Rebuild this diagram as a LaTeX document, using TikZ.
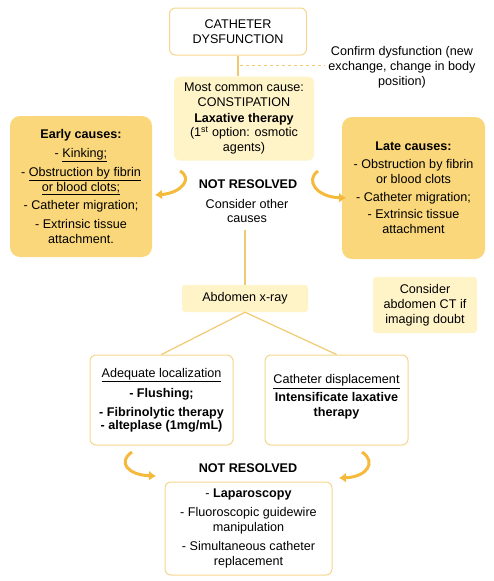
\documentclass[tikz,border=0pt]{standalone}
\usepackage{fontspec}
\setmainfont{Liberation Sans}
\usetikzlibrary{arrows.meta,shapes,positioning}
\definecolor{goldfill}{RGB}{250,215,122}
\definecolor{paleyellow}{RGB}{255,243,200}
\definecolor{edgecol}{RGB}{245,214,140}
\definecolor{linkcol}{RGB}{240,202,112}
\definecolor{arrowcol}{RGB}{245,185,60}
\tikzset{
	txt/.style = {align = center, inner sep = 0,
		font = \fontsize{12.6}{14.8}\selectfont},
	whitebox/.style = {rectangle, rounded corners = 6pt, fill = white,
		draw = edgecol, line width = 1pt},
	palebox/.style = {rectangle, rounded corners = 6pt, fill = paleyellow},
	goldbox/.style = {rectangle, rounded corners = 10pt, fill = goldfill},
	link/.style = {draw = linkcol, line width = 1.2pt},
	dashlink/.style = {draw = linkcol, line width = 0.8pt, dashed,
		dash pattern = on 3pt off 3pt},
	bend arrow/.style = {draw = arrowcol, line width = 3pt,
		-{Latex[length = 7pt, width = 10pt]}},
}

\begin{document}
\begin{tikzpicture}[x = 1pt, y = -1pt]
\useasboundingbox (0,0) rectangle (494,581);

% boxes
\node[whitebox, minimum width = 137pt, minimum height = 47pt] (dysf) at (238,31.5) {};
\node[palebox, minimum width = 140pt, minimum height = 84pt] (cause) at (244,118.5) {};
\node[goldbox, minimum width = 142pt, minimum height = 141pt] (early) at (81,186.5) {};
\node[goldbox, minimum width = 143pt, minimum height = 142pt] (late) at (413.5,188) {};
\node[palebox, rounded corners = 3pt, minimum width = 126pt, minimum height = 27pt] (xray) at (245,298.5) {};
\node[palebox, rounded corners = 3pt, minimum width = 104pt, minimum height = 56pt] (ct) at (425,305) {};
\node[whitebox, minimum width = 143pt, minimum height = 90pt] (adequate) at (161.5,400) {};
\node[whitebox, minimum width = 143pt, minimum height = 90pt] (displace) at (336.5,400) {};
\node[whitebox, minimum width = 167pt, minimum height = 93pt] (lapar) at (248.5,528.5) {};

% texts
\node[txt] at (dysf) {CATHETER\\DYSFUNCTION};
\node[txt] (confirm) at (402,67) {Confirm dysfunction (new\\exchange, change in body\\position)};
\node[txt] at (cause) {Most common cause:\\CONSTIPATION\\[1pt]
	\textbf{Laxative therapy}\\(1\textsuperscript{st} option: osmotic\\agents)};
\node[txt] at (early) {\textbf{Early causes:}\\[4pt]
	- \underline{Kinking;}\\[4pt]
	- \underline{Obstruction by fibrin}\\\underline{or blood clots;}\\[4pt]
	- Catheter migration;\\[4pt]
	- Extrinsic tissue\\attachment.};
\node[txt] at (late) {\textbf{Late causes:}\\[3pt]
	- Obstruction by fibrin\\or blood clots\\[3pt]
	- Catheter migration;\\[3pt]
	- Extrinsic tissue\\attachment};
\node[txt, font = \fontsize{12.6}{14.8}\bfseries] (notres) at (248,184) {NOT RESOLVED};
\node[txt] (other) at (247,211) {Consider other\\causes};
\node[txt] at (xray) {Abdomen x-ray};
\node[txt] at (ct) {Consider\\abdomen CT if\\imaging doubt};
\node[txt] at (adequate) {\underline{Adequate localization}\\[6pt]
	\textbf{- Flushing;}\\[4pt]
	\textbf{- Fibrinolytic therapy}\\[-2pt]\textbf{- alteplase (1mg/mL)}};
\node[txt] at ([yshift = 3pt]displace.center) {\underline{Catheter displacement}\\[3pt]
	\textbf{Intensificate laxative}\\\textbf{therapy}};
\node[txt, font = \fontsize{12.6}{14.8}\bfseries] (notres2) at (248,468) {NOT RESOLVED};
\node[txt] at (lapar) {- \textbf{Laparoscopy}\\[4pt]
	- Fluoroscopic guidewire\\manipulation\\[4pt]
	- Simultaneous catheter\\replacement};

% connectors
\draw[link] (dysf.south) -- (dysf.south |- cause.north);
\coordinate (confirmpt) at (240,65);
\draw[dashlink] (confirmpt) -- (325,65);
\draw[link] (xray.north |- other.south) ++(0,7) -- (xray.north);
\draw[link] (xray.south) -- (adequate.north);
\draw[link] (xray.south) -- (displace.north);

% curved arrows
\coordinate (tl) at (180,171);
\coordinate (tlend) at (155,195);
\coordinate (tr) at (318,171);
\coordinate (trend) at (346,198);
\coordinate (bl) at (132,452);
\coordinate (blend) at (156,476);
\coordinate (br) at (362,452);
\coordinate (brend) at (339,478);
\draw[bend arrow] (tl) .. controls (193,178) and (182,193) .. (tlend);
\draw[bend arrow] (tr) .. controls (305,180) and (316,197) .. (trend);
\draw[bend arrow] (bl) .. controls (117,462) and (128,475) .. (blend);
\draw[bend arrow] (br) .. controls (377,462) and (367,477) .. (brend);
\end{tikzpicture}
\end{document}
